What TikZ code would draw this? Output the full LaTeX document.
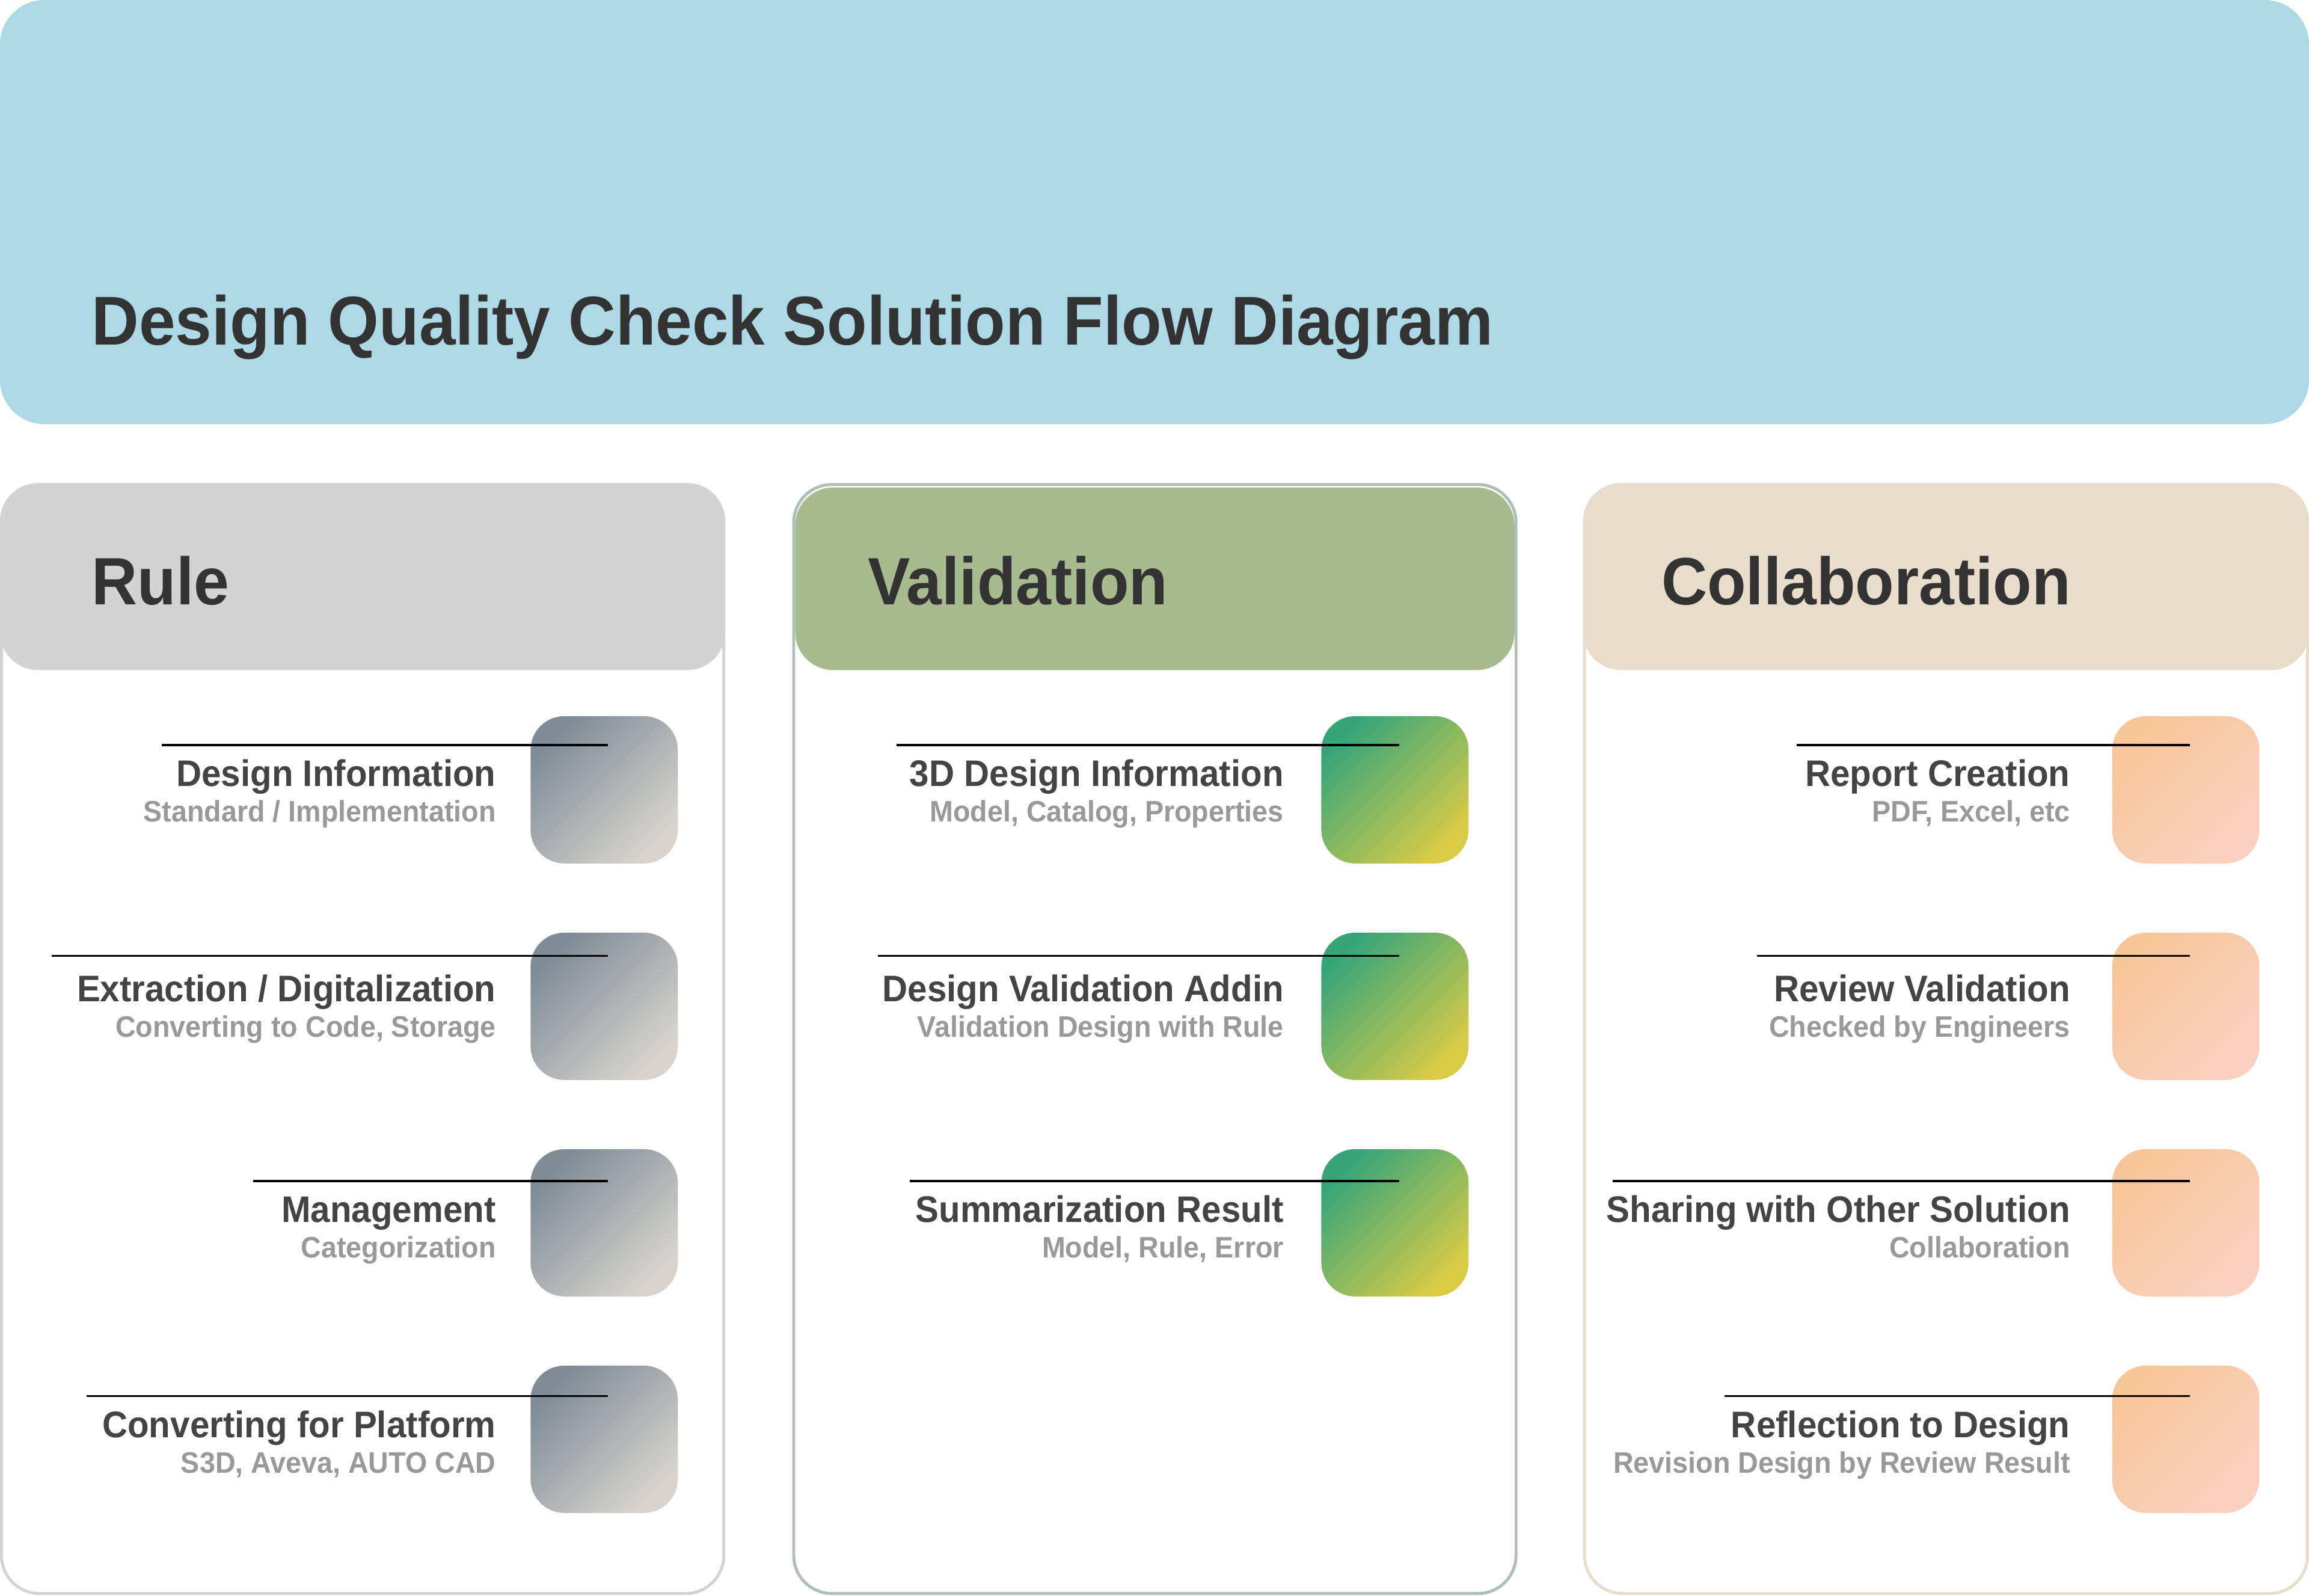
\documentclass[tikz,border=0pt]{standalone}
\usepackage{fontspec}
\setmainfont{Liberation Sans}[FakeStretch=0.948]
\definecolor{bandblue}{HTML}{ADD8E6}
\definecolor{ruleedge}{HTML}{D3D3D3}
\definecolor{rulehead}{HTML}{D3D3D3}
\definecolor{validedge}{HTML}{AEBFB6}
\definecolor{validhead}{HTML}{A8BB8F}
\definecolor{collabedge}{HTML}{E8DDCA}
\definecolor{collabhead}{HTML}{E8DDCA}
\definecolor{darktext}{HTML}{333333}
\definecolor{itemtext}{HTML}{444444}
\definecolor{subtext}{HTML}{999999}
\definecolor{gA1}{HTML}{7F8C96}
\definecolor{gA2}{HTML}{D7D4CD}
\definecolor{gB1}{HTML}{38A579}
\definecolor{gB2}{HTML}{D8CB46}
\definecolor{gC1}{HTML}{F7C698}
\definecolor{gC2}{HTML}{FAD1C1}
\tikzset{
  panel/.style={line width=1.4pt, fill=white, rounded corners=18pt},
  headbox/.style={rounded corners=18pt},
  sqbox/.style={minimum width=2.449cm, minimum height=2.449cm, inner sep=0pt,
    rounded corners=16pt},
  grayshade/.style={top color=gA1, bottom color=gA2, shading angle=45},
  greenshade/.style={top color=gB1, bottom color=gB2, shading angle=45},
  peachshade/.style={top color=gC1, bottom color=gC2, shading angle=45},
  itemline/.style={line width=1pt, black},
  itemtitle/.style={anchor=base east, inner sep=0pt, text=itemtext,
    font=\bfseries\fontsize{17.5}{20}\selectfont},
  itemsub/.style={anchor=base east, inner sep=0pt, text=subtext,
    font=\bfseries\fontsize{14}{16}\selectfont},
  headtext/.style={anchor=base west, inner sep=0pt, text=darktext,
    font=\bfseries\fontsize{31.7}{36}\selectfont}
}
\def\txoff{23}
% #1 name, #2 square left x, #3 square top, #4 line y, #5 line left x,
% #6 title baseline, #7 title, #8 subtitle, #9 shading style
\newcommand\dqitem[9]{%
  \node[sqbox,#9,anchor=north west] (#1) at (#2,#3) {};
  \node[itemtitle] (#1t) at (#2-\txoff,#6) {#7};
  \node[itemsub] (#1s) at (#2-\txoff,#6+24) {#8};
  \coordinate (#1l) at (#5,#4);
  \coordinate (#1r) at (#2+53,#4);
  \draw[itemline] (#1l) -- (#1r);
}
\begin{document}
\begin{tikzpicture}[x=0.02449cm, y=-0.02449cm]
\useasboundingbox (0,0) rectangle (1568,1083.7);
% title band
\fill[bandblue, rounded corners=21pt] (0,0) rectangle (1568,288);
\node[anchor=base west, inner sep=0pt, text=darktext,
  font=\bfseries\fontsize{32.7}{38}\selectfont] (title) at (62,234)
  {Design Quality Check Solution Flow Diagram};
% panels
\draw[panel, draw=ruleedge] (1,329) rectangle (491.5,1082);
\fill[headbox, rulehead] (0,328) rectangle (492.5,455);
\node[headtext] (hrule) at (62,410.5) {Rule};

\draw[panel, draw=validedge] (539,329) rectangle (1029.5,1082);
\fill[headbox, validhead] (540,331) rectangle (1028.5,455);
\node[headtext] (hval) at (589,410.5) {Validation};

\draw[panel, draw=collabedge] (1076,329) rectangle (1567,1082);
\fill[headbox, collabhead] (1075,328) rectangle (1568,455);
\node[headtext] (hcol) at (1128,410.5) {Collaboration};

% Rule column
\def\txoff{23}
\dqitem{ra}{360}{486}{506}{110}{534}{Design Information}{Standard / Implementation}{grayshade}
\dqitem{rb}{360}{633}{649}{35}{680}{Extraction / Digitalization}{Converting to Code, Storage}{grayshade}
\dqitem{rc}{360}{780}{802}{172}{830}{Management}{Categorization}{grayshade}
\dqitem{rd}{360}{927}{948}{59}{976}{Converting for Platform}{S3D, Aveva, AUTO CAD}{grayshade}
% Validation column
\def\txoff{25}
\dqitem{va}{897}{486}{506}{609}{534}{3D Design Information}{Model, Catalog, Properties}{greenshade}
\dqitem{vb}{897}{633}{649}{596}{680}{Design Validation Addin}{Validation Design with Rule}{greenshade}
\dqitem{vc}{897}{780}{802}{618}{830}{Summarization Result}{Model, Rule, Error}{greenshade}
% Collaboration column
\def\txoff{28}
\dqitem{ca}{1434}{486}{506}{1220}{534}{Report Creation}{PDF, Excel, etc}{peachshade}
\dqitem{cb}{1434}{633}{649}{1193}{680}{Review Validation}{Checked by Engineers}{peachshade}
\dqitem{cc}{1434}{780}{802}{1095}{830}{Sharing with Other Solution}{Collaboration}{peachshade}
\dqitem{cd}{1434}{927}{948}{1171}{976}{Reflection to Design}{Revision Design by Review Result}{peachshade}
\end{tikzpicture}
\end{document}
